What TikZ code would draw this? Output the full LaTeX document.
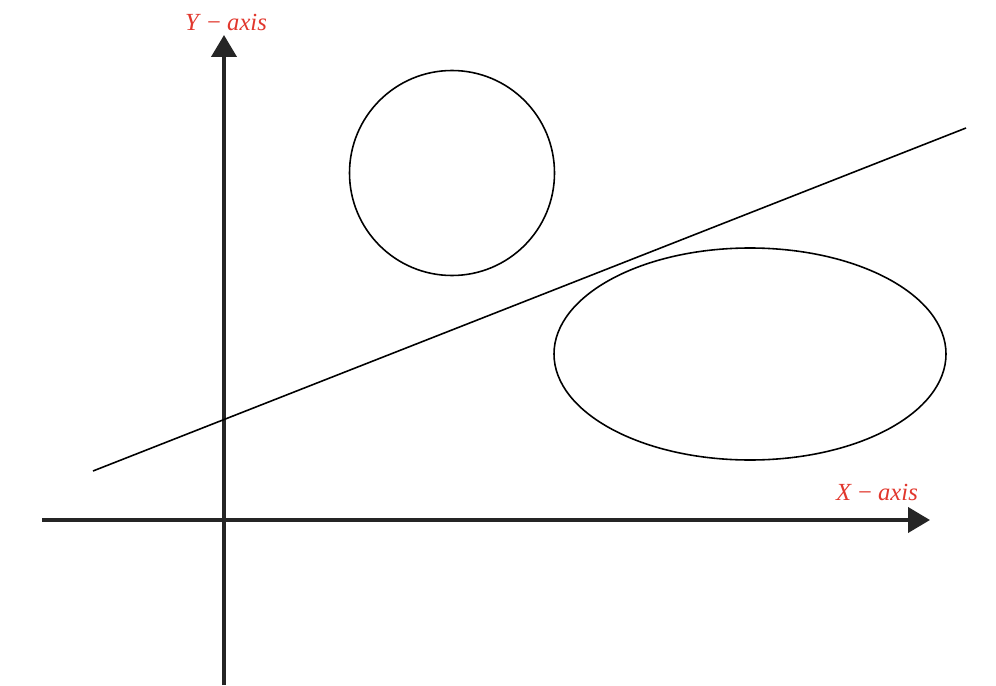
\documentclass[tikz,border=0pt]{standalone}
\usepackage{fontspec}
\setmainfont{Liberation Serif}
\usetikzlibrary{arrows.meta}
\definecolor{labelred}{RGB}{225,55,45}
\definecolor{axisgray}{RGB}{37,37,37}
\tikzset{
    axisline/.style={line width=2.3pt, color=axisgray, -{Triangle[length=0.44cm,width=0.5cm]}},
    axislabel/.style={color=labelred, font=\fontsize{14}{16}\selectfont}
}
\begin{document}
\begin{tikzpicture}
    \useasboundingbox (0,0) rectangle (19.92,13.7);
    \draw[axisline] (0.84,3.3) --(18.6,3.3);
    \draw[axisline] (4.48,0) --(4.48,13.0);
    \node[axislabel] (ylabel) at (4.52,13.26) {\textit{Y} − \textit{axis}};
    \node[axislabel] (xlabel) at (17.54,3.86) {\textit{X} − \textit{axis}};
    \draw[line width=0.9pt] (9.04,10.24) circle (2.05);
    \draw[line width=0.9pt] (15.0,6.62) ellipse (3.92 and 2.12);
    \draw[line width=0.9pt] (1.86,4.28) --(19.32,11.14);
\end{tikzpicture}
\end{document}
